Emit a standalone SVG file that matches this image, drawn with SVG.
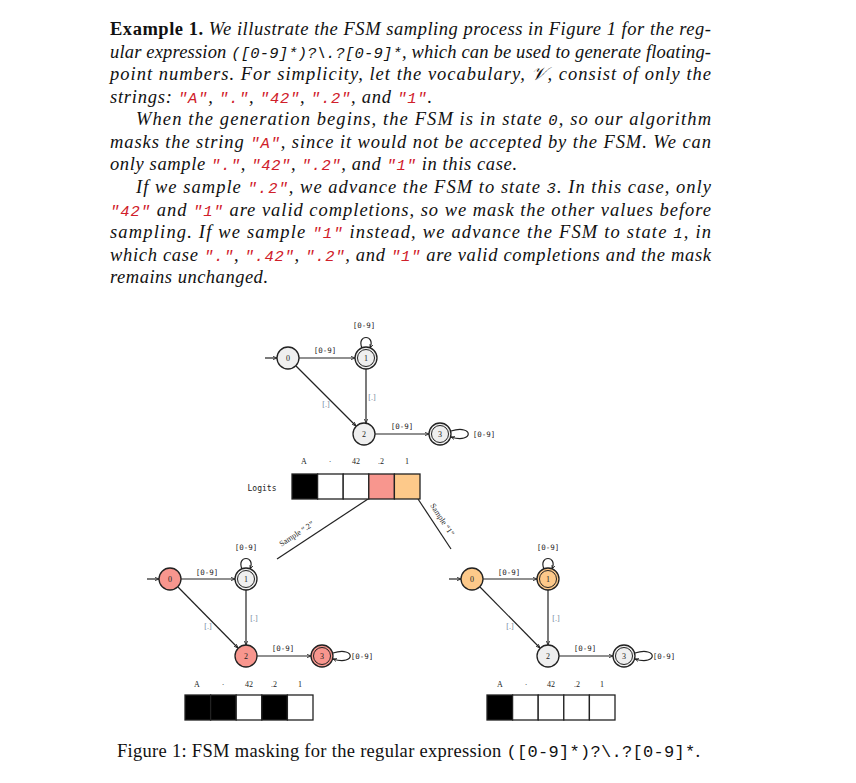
<svg xmlns="http://www.w3.org/2000/svg" width="856" height="783" viewBox="0 0 856 783">
<style>
.p{font-family:"Liberation Serif",serif;font-style:italic;font-size:18.5px;fill:#111}
.b{font-style:normal;font-weight:bold}
.m{font-family:"Liberation Mono",monospace;font-style:italic;font-size:15.5px;fill:#d0202a}
.mk{font-family:"Liberation Mono",monospace;font-style:italic;font-size:15.5px;fill:#111}
.cap{font-family:"Liberation Serif",serif;font-size:18.5px;fill:#111}
.cm{font-family:"Liberation Mono",monospace;font-size:17px}
.st{stroke:#222;stroke-width:1.3;fill:#efefef}
.in{stroke:#222;stroke-width:1;fill:none}
.e{stroke:#222;stroke-width:1.2;fill:none}
.n{font-family:"Liberation Serif",serif;font-size:8px;fill:#222;text-anchor:middle}
.l{font-family:"DejaVu Sans Mono",monospace;font-size:7.5px;fill:#222;text-anchor:middle}
.d{font-family:"Liberation Serif",serif;font-size:8px;fill:#6f7f9a;text-anchor:middle}
.v{font-family:"Liberation Serif",serif;font-size:8px;fill:#222;text-anchor:middle}
.c{stroke:#222;stroke-width:1.3}
</style>
<defs>
<marker id="a" viewBox="0 0 6 6" refX="6" refY="3" markerUnits="userSpaceOnUse" markerWidth="4" markerHeight="4" orient="auto"><path d="M0,0.5 L6,3 L0,5.5" fill="none" stroke="#222" stroke-width="1.2"/></marker>
</defs>
<g id="paragraph">
<text class="p" x="110" y="35" textLength="601"><tspan class="b">Example 1.</tspan> We illustrate the FSM sampling process in Figure 1 for the reg-</text>
<text class="p" x="110" y="57.5" textLength="601">ular expression <tspan class="mk">([0-9]*)?\.?[0-9]*</tspan>, which can be used to generate floating-</text>
<text class="p" x="110" y="80" textLength="601">point numbers.  For simplicity, let the vocabulary, 𝒱, consist of only the</text>
<text class="p" x="110" y="103" textLength="322">strings: <tspan class="m">"A"</tspan>, <tspan class="m">"."</tspan>, <tspan class="m">"42"</tspan>, <tspan class="m">".2"</tspan>, and <tspan class="m">"1"</tspan>.</text>
<text class="p" x="136" y="125" textLength="575">When the generation begins, the FSM is in state <tspan class="mk">0</tspan>, so our algorithm</text>
<text class="p" x="110" y="148" textLength="601">masks the string <tspan class="m">"A"</tspan>, since it would not be accepted by the FSM. We can</text>
<text class="p" x="110" y="170" textLength="407">only sample <tspan class="m">"."</tspan>, <tspan class="m">"42"</tspan>, <tspan class="m">".2"</tspan>, and <tspan class="m">"1"</tspan> in this case.</text>
<text class="p" x="136" y="193" textLength="575">If we sample <tspan class="m">".2"</tspan>, we advance the FSM to state <tspan class="mk">3</tspan>. In this case, only</text>
<text class="p" x="110" y="216" textLength="601"><tspan class="m">"42"</tspan> and <tspan class="m">"1"</tspan> are valid completions, so we mask the other values before</text>
<text class="p" x="110" y="238" textLength="601">sampling. If we sample <tspan class="m">"1"</tspan> instead, we advance the FSM to state <tspan class="mk">1</tspan>, in</text>
<text class="p" x="110" y="261" textLength="601">which case <tspan class="m">"."</tspan>, <tspan class="m">".42"</tspan>, <tspan class="m">".2"</tspan>, and <tspan class="m">"1"</tspan> are valid completions and the mask</text>
<text class="p" x="110" y="283" textLength="158">remains unchanged.</text>
</g>

<g id="connectors">
<path class="e" d="M265,358 H277" marker-end="url(#a)"/>
<path class="e" d="M299,358 H355" marker-end="url(#a)"/>
<path class="e" d="M296,366 L356,426" marker-end="url(#a)"/>
<path class="e" d="M366,369 V423" marker-end="url(#a)"/>
<path class="e" d="M375,434 H429" marker-end="url(#a)"/>
<path class="e" d="M362,348 C356,334 376,334 370,348" marker-end="url(#a)"/>
<path class="e" d="M451,431 C474,424 474,444 451,437" marker-end="url(#a)"/>
<path class="e" d="M147,579 H159" marker-end="url(#a)"/>
<path class="e" d="M181,579 H235" marker-end="url(#a)"/>
<path class="e" d="M178,587 L238,648" marker-end="url(#a)"/>
<path class="e" d="M246,590 V645" marker-end="url(#a)"/>
<path class="e" d="M257,656 H311" marker-end="url(#a)"/>
<path class="e" d="M242,569 C236,555 256,555 250,569" marker-end="url(#a)"/>
<path class="e" d="M333,653 C356,646 356,666 333,659" marker-end="url(#a)"/>
<path class="e" d="M449,579 H461" marker-end="url(#a)"/>
<path class="e" d="M483,579 H537" marker-end="url(#a)"/>
<path class="e" d="M480,587 L540,648" marker-end="url(#a)"/>
<path class="e" d="M548,590 V645" marker-end="url(#a)"/>
<path class="e" d="M559,656 H613" marker-end="url(#a)"/>
<path class="e" d="M544,569 C538,555 558,555 552,569" marker-end="url(#a)"/>
<path class="e" d="M635,653 C658,646 658,666 635,659" marker-end="url(#a)"/>
<path class="e" d="M368,499 L277,559"/>
<path class="e" d="M418,499 L451,549"/>
</g>

<g id="edge-labels">
<text class="l" x="364" y="328">[0-9]</text>
<text class="l" x="325" y="353">[0-9]</text>
<text class="d" x="372" y="400">[.]</text>
<text class="d" x="326" y="407">[.]</text>
<text class="l" x="402" y="429">[0-9]</text>
<text class="l" x="484" y="437">[0-9]</text>
<text class="l" x="246" y="550">[0-9]</text>
<text class="l" x="207" y="575">[0-9]</text>
<text class="d" x="254" y="621">[.]</text>
<text class="d" x="208" y="629">[.]</text>
<text class="l" x="283" y="651">[0-9]</text>
<text class="l" x="362" y="659">[0-9]</text>
<text class="l" x="548" y="550">[0-9]</text>
<text class="l" x="509" y="575">[0-9]</text>
<text class="d" x="556" y="621">[.]</text>
<text class="d" x="510" y="629">[.]</text>
<text class="l" x="585" y="651">[0-9]</text>
<text class="l" x="664" y="659">[0-9]</text>
<text class="v" transform="translate(298,536) rotate(-33)">Sample “.2”</text>
<text class="v" transform="translate(440,521) rotate(57)">Sample “1”</text>
</g>

<g id="top-0"><circle class="st" cx="288" cy="358" r="11"/><text class="n" x="288" y="361">0</text></g>
<g id="top-1"><circle class="st" cx="366" cy="358" r="11"/><circle class="in" cx="366" cy="358" r="8.5"/><text class="n" x="366" y="361">1</text></g>
<g id="top-2"><circle class="st" cx="364" cy="434" r="11"/><text class="n" x="364" y="437">2</text></g>
<g id="top-3"><circle class="st" cx="440" cy="434" r="11"/><circle class="in" cx="440" cy="434" r="8.5"/><text class="n" x="440" y="437">3</text></g>

<g id="left-0"><circle class="st" style="fill:#f8968e" cx="170" cy="579" r="11"/><text class="n" x="170" y="582">0</text></g>
<g id="left-1"><circle class="st" cx="246" cy="579" r="11"/><circle class="in" cx="246" cy="579" r="8.5"/><text class="n" x="246" y="582">1</text></g>
<g id="left-2"><circle class="st" style="fill:#f8968e" cx="246" cy="656" r="11"/><text class="n" x="246" y="659">2</text></g>
<g id="left-3"><circle class="st" style="fill:#f8968e" cx="322" cy="656" r="11"/><circle class="in" cx="322" cy="656" r="8.5"/><text class="n" x="322" y="659">3</text></g>

<g id="right-0"><circle class="st" style="fill:#fdc98a" cx="472" cy="579" r="11"/><text class="n" x="472" y="582">0</text></g>
<g id="right-1"><circle class="st" style="fill:#fdc98a" cx="548" cy="579" r="11"/><circle class="in" cx="548" cy="579" r="8.5"/><text class="n" x="548" y="582">1</text></g>
<g id="right-2"><circle class="st" cx="548" cy="656" r="11"/><text class="n" x="548" y="659">2</text></g>
<g id="right-3"><circle class="st" cx="624" cy="656" r="11"/><circle class="in" cx="624" cy="656" r="8.5"/><text class="n" x="624" y="659">3</text></g>

<g id="logits">
<text class="l" style="font-size:8px" x="262" y="491">Logits</text>
<g class="v"><text x="304" y="464">A</text><text x="330" y="464">·</text><text x="356" y="464">42</text><text x="381" y="464">.2</text><text x="407" y="464">1</text></g>
<rect class="c" x="292" y="474" width="25.6" height="25" fill="#000"/>
<rect class="c" x="317.6" y="474" width="25.6" height="25" fill="#fff"/>
<rect class="c" x="343.2" y="474" width="25.6" height="25" fill="#fff"/>
<rect class="c" x="368.8" y="474" width="25.6" height="25" fill="#f8968e"/>
<rect class="c" x="394.4" y="474" width="25.6" height="25" fill="#fdc98a"/>
</g>
<g id="left-mask">
<g class="v"><text x="197" y="687">A</text><text x="223" y="687">·</text><text x="249" y="687">42</text><text x="274" y="687">.2</text><text x="300" y="687">1</text></g>
<rect class="c" x="185" y="695" width="25.6" height="25" fill="#000"/>
<rect class="c" x="210.6" y="695" width="25.6" height="25" fill="#000"/>
<rect class="c" x="236.2" y="695" width="25.6" height="25" fill="#fff"/>
<rect class="c" x="261.8" y="695" width="25.6" height="25" fill="#000"/>
<rect class="c" x="287.4" y="695" width="25.6" height="25" fill="#fff"/>
</g>
<g id="right-mask">
<g class="v"><text x="500" y="687">A</text><text x="526" y="687">·</text><text x="551" y="687">42</text><text x="577" y="687">.2</text><text x="602" y="687">1</text></g>
<rect class="c" x="487" y="695" width="25.6" height="25" fill="#000"/>
<rect class="c" x="512.6" y="695" width="25.6" height="25" fill="#fff"/>
<rect class="c" x="538.2" y="695" width="25.6" height="25" fill="#fff"/>
<rect class="c" x="563.8" y="695" width="25.6" height="25" fill="#fff"/>
<rect class="c" x="589.4" y="695" width="25.6" height="25" fill="#fff"/>
</g>
<text id="caption" class="cap" x="117" y="757" textLength="583">Figure 1: FSM masking for the regular expression <tspan class="cm">([0-9]*)?\.?[0-9]*</tspan>.</text>
</svg>
